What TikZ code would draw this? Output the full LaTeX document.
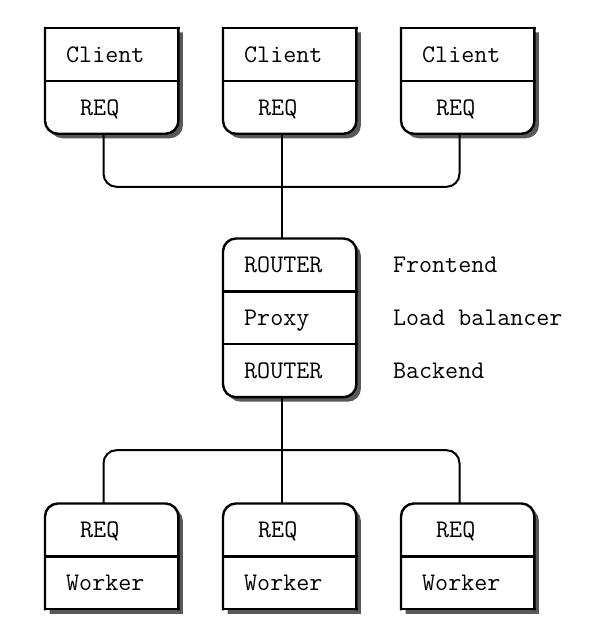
\documentclass[tikz,border=0pt]{standalone}
\usetikzlibrary{positioning,shadows,backgrounds}
\begin{document}
\begin{tikzpicture}[x=1pt,y=1pt]
    \tikzstyle{cell} = [rectangle, inner xsep=21pt, inner ysep=0pt, text width=91pt, align=left, text height=15.4pt, text depth=0pt, minimum height=52.5pt, font=\fontsize{25.3}{29}\selectfont\ttfamily]
    \tikzstyle{side} = [inner sep=0pt, text height=15.4pt, text depth=0pt, font=\fontsize{25.3}{29}\selectfont\ttfamily]
    \tikzstyle{frame} = [line width=2.4pt, line cap=rect, fill=white, rounded corners=13pt, drop shadow={shadow xshift=4.5pt, shadow yshift=-4.5pt, fill=black!65, opacity=1}]
    \tikzstyle{edge} = [line width=2.4pt, line cap=rect]
    \tikzstyle{wire} = [line width=2pt, rounded corners=13pt]
    \useasboundingbox (0,0) rectangle (590,640);

    % clients
    \foreach \i/\x in {1/45, 2/223, 3/401} {
        \node (cl\i) [cell, anchor=north west] at (\x,612) {Client};
        \node (rq\i) [cell, below=0pt of cl\i] {\hspace*{14pt}REQ};
    }

    % proxy
    \node (fe) [cell, anchor=north west] at (223,401.5) {ROUTER};
    \node (lb) [cell, below=0pt of fe] {Proxy};
    \node (be) [cell, below=0pt of lb] {ROUTER};
    \node (fetxt) [side, right=36.5pt of fe] {Frontend};
    \node (lbtxt) [side, right=36.5pt of lb] {Load balancer};
    \node (betxt) [side, right=36.5pt of be] {Backend};

    % workers
    \foreach \i/\x in {1/45, 2/223, 3/401} {
        \node (rw\i) [cell, anchor=north west] at (\x,136.5) {\hspace*{14pt}REQ};
        \node (wk\i) [cell, below=0pt of rw\i] {Worker};
    }

    \begin{scope}[on background layer]
        \foreach \i in {1,2,3} {
            \draw[frame] (cl\i.north west) -- (rq\i.south west) -- (rq\i.south east) -- (cl\i.north east);
            \draw[edge] (cl\i.north west) -- (cl\i.north east) (cl\i.south west) -- (cl\i.south east);
            \draw[frame] (wk\i.south west) -- (rw\i.north west) -- (rw\i.north east) -- (wk\i.south east);
            \draw[edge] (wk\i.south west) -- (wk\i.south east) (rw\i.south west) -- (rw\i.south east);
        }
        \draw[frame] (fe.north west) rectangle (be.south east);
        \draw[edge] (fe.south west) -- (fe.south east) (lb.south west) -- (lb.south east);
    \end{scope}

    \coordinate[below=53pt of rq2.south west, xshift=58.5pt] (jin);
    \coordinate[below=53pt of be.south west, xshift=58.5pt] (jout);

    \draw[wire] ([xshift=58.5pt]rq1.south west) |- (jin) -| ([xshift=58.5pt]rq3.south west);
    \draw[wire] ([xshift=58.5pt]rq2.south west) -- ([xshift=58.5pt]fe.north west);
    \draw[wire] ([xshift=58.5pt]rw1.north west) |- (jout) -| ([xshift=58.5pt]rw3.north west);
    \draw[wire] ([xshift=58.5pt]be.south west) -- ([xshift=58.5pt]rw2.north west);

\end{tikzpicture}
\end{document}
